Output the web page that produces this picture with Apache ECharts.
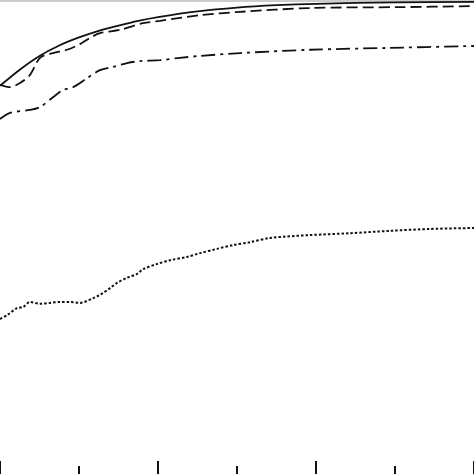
<!DOCTYPE html>
<html>
<head>
<meta charset="utf-8">
<script src="https://cdn.jsdelivr.net/npm/echarts@6/dist/echarts.min.js"></script>
<style>html,body{margin:0;padding:0;background:#fff}#c{width:474px;height:474px}</style>
</head>
<body>
<div id="c"></div>
<script>
// X values (axis units, ticks every 1, labelled majors every 2)
const solidX = [0, 0.25, 0.5, 0.75, 1, 1.25, 1.5, 1.75, 2, 2.5, 3, 3.5, 4, 5, 6];
const solidY = [81.9, 85.3, 88.2, 90.4, 92.1, 93.5, 94.6, 95.6, 96.4, 97.6, 98.4, 98.9, 99.2, 99.5, 99.6];

const dashedX = [0, 0.127, 0.253, 0.38, 0.506, 0.671, 0.848, 1.013, 1.139, 1.266, 1.519, 1.81, 2.025, 2.532, 3.038, 3.924, 5.063, 6];
const dashedY = [82.1, 81.6, 82.5, 84.2, 87.8, 88.8, 89.5, 90.7, 92.0, 93.0, 93.7, 95.1, 95.6, 96.8, 97.5, 98.3, 98.5, 98.7];

const dashDotX = [0, 0.127, 0.38, 0.506, 0.671, 0.797, 0.924, 1.101, 1.266, 1.43, 1.608, 1.772, 2.025, 2.278, 2.532, 3.038, 3.924, 4.937, 6];
const dashDotY = [74.9, 76.2, 76.8, 77.4, 79.5, 81.0, 81.6, 83.5, 85.2, 85.9, 86.7, 87.1, 87.3, 87.8, 88.2, 88.8, 89.5, 89.9, 90.3];

const dottedX = [0, 0.089, 0.215, 0.291, 0.38, 0.506, 0.633, 0.759, 0.886, 1.013, 1.177, 1.266, 1.392, 1.481, 1.608, 1.734, 1.81, 1.987, 2.152, 2.367, 2.532, 2.747, 2.949, 3.165, 3.418, 3.924, 4.43, 4.937, 5.443, 6];
const dottedY = [32.7, 33.5, 35.0, 35.2, 36.3, 35.9, 36.1, 36.3, 36.3, 36.1, 37.1, 37.8, 39.2, 40.3, 41.4, 42.2, 43.2, 44.3, 45.1, 45.8, 46.6, 47.5, 48.3, 48.9, 49.8, 50.4, 50.8, 51.3, 51.7, 51.9];

const pairs = (xs, ys) => xs.map((x, i) => [x, ys[i]]);
const chart = echarts.init(document.getElementById('c'), null, {renderer: 'canvas'});
const mk = (name, xs, ys, type, width, smooth) => ({
  name, type: 'line', data: pairs(xs, ys), showSymbol: false, smooth,
  lineStyle: {color: '#111', width, type}, animation: false
});
chart.setOption({
  animation: false,
  grid: {left: 0, right: 0, top: 0, bottom: 0},
  xAxis: [
    {type: 'value', position: 'bottom', min: 0, max: 6, interval: 2,
     axisLine: {show: false}, axisLabel: {show: false}, splitLine: {show: false},
     axisTick: {show: true, inside: true, length: 13, lineStyle: {color: '#111', width: 2}},
     minorTick: {show: true, splitNumber: 2, length: 8, lineStyle: {color: '#111', width: 2}}},
    {type: 'value', position: 'top', min: 0, max: 6,
     axisLine: {show: true, lineStyle: {color: '#cccccc', width: 4}},
     axisTick: {show: false}, axisLabel: {show: false}, splitLine: {show: false}}
  ],
  yAxis: {type: 'value', min: 0, max: 100, show: false, splitLine: {show: false}},
  series: [
    mk('solid', solidX, solidY, 'solid', 1.8, 0.3),
    mk('dashed', dashedX, dashedY, [11, 5], 1.8, 0.3),
    mk('dashdot', dashDotX, dashDotY, [14, 5, 3, 5], 1.8, 0.3),
    mk('dotted', dottedX, dottedY, [2.5, 2], 2, 0.3)
  ]
});
</script>
</body>
</html>
